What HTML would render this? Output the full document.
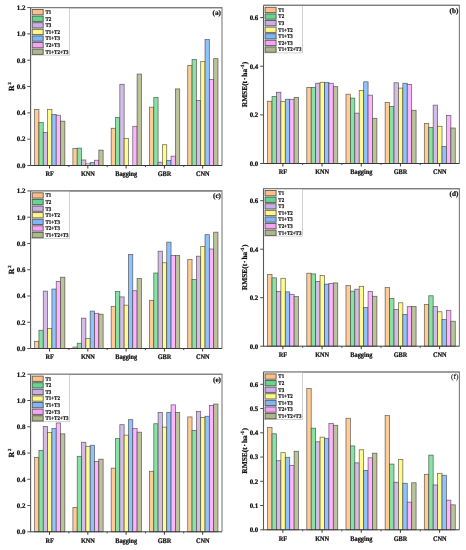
<!DOCTYPE html>
<html><head><meta charset="utf-8"><style>
html,body{margin:0;padding:0;background:#fff;width:466px;height:550px;overflow:hidden}
svg{display:block;will-change:transform}
text{text-rendering:geometricPrecision;font-family:"Liberation Serif",serif;font-weight:bold;fill:#111;stroke:#111;stroke-width:0.24px}
.tk{font-size:6.9px;text-anchor:end}
.gl{font-size:7.0px;text-anchor:middle}
.pl{font-size:7.2px;text-anchor:end}
.nb{font-weight:normal;font-size:7.4px;stroke-width:0.12px}
.yl{font-size:7.4px;text-anchor:middle}
.lg{font-size:5.8px;stroke-width:0.22px}
.lgn{font-weight:normal;stroke-width:0.15px;fill:#222;stroke:#222}
</style></head><body>
<svg width="466" height="550" viewBox="0 0 466 550">
<rect width="466" height="550" fill="#fff"/>
<rect x="34.62" y="109.44" width="4.32" height="56.06" fill="#ffcb96" stroke="rgba(45,45,45,0.7)" stroke-width="0.75"/>
<rect x="38.94" y="122.60" width="4.32" height="42.90" fill="#86e3a3" stroke="rgba(45,45,45,0.7)" stroke-width="0.75"/>
<rect x="43.26" y="132.47" width="4.32" height="33.03" fill="#d5bce8" stroke="rgba(45,45,45,0.7)" stroke-width="0.75"/>
<rect x="47.58" y="109.44" width="4.32" height="56.06" fill="#fffb8e" stroke="rgba(45,45,45,0.7)" stroke-width="0.75"/>
<rect x="51.90" y="114.57" width="4.32" height="50.93" fill="#90c3fd" stroke="rgba(45,45,45,0.7)" stroke-width="0.75"/>
<rect x="56.22" y="115.23" width="4.32" height="50.27" fill="#ffb4fe" stroke="rgba(45,45,45,0.7)" stroke-width="0.75"/>
<rect x="60.54" y="121.15" width="4.32" height="44.35" fill="#bcc29a" stroke="rgba(45,45,45,0.7)" stroke-width="0.75"/>
<rect x="72.90" y="148.39" width="4.32" height="17.11" fill="#ffcb96" stroke="rgba(45,45,45,0.7)" stroke-width="0.75"/>
<rect x="77.22" y="148.13" width="4.32" height="17.37" fill="#86e3a3" stroke="rgba(45,45,45,0.7)" stroke-width="0.75"/>
<rect x="81.54" y="159.97" width="4.32" height="5.53" fill="#d5bce8" stroke="rgba(45,45,45,0.7)" stroke-width="0.75"/>
<rect x="85.86" y="163.79" width="4.32" height="1.71" fill="#fffb8e" stroke="rgba(45,45,45,0.7)" stroke-width="0.75"/>
<rect x="90.18" y="162.34" width="4.32" height="3.16" fill="#90c3fd" stroke="rgba(45,45,45,0.7)" stroke-width="0.75"/>
<rect x="94.50" y="160.24" width="4.32" height="5.26" fill="#ffb4fe" stroke="rgba(45,45,45,0.7)" stroke-width="0.75"/>
<rect x="98.82" y="150.10" width="4.32" height="15.40" fill="#bcc29a" stroke="rgba(45,45,45,0.7)" stroke-width="0.75"/>
<rect x="111.18" y="128.26" width="4.32" height="37.24" fill="#ffcb96" stroke="rgba(45,45,45,0.7)" stroke-width="0.75"/>
<rect x="115.50" y="117.60" width="4.32" height="47.90" fill="#86e3a3" stroke="rgba(45,45,45,0.7)" stroke-width="0.75"/>
<rect x="119.82" y="84.30" width="4.32" height="81.20" fill="#d5bce8" stroke="rgba(45,45,45,0.7)" stroke-width="0.75"/>
<rect x="124.14" y="138.39" width="4.32" height="27.11" fill="#fffb8e" stroke="rgba(45,45,45,0.7)" stroke-width="0.75"/>
<rect x="132.78" y="126.28" width="4.32" height="39.22" fill="#ffb4fe" stroke="rgba(45,45,45,0.7)" stroke-width="0.75"/>
<rect x="137.10" y="74.04" width="4.32" height="91.46" fill="#bcc29a" stroke="rgba(45,45,45,0.7)" stroke-width="0.75"/>
<rect x="149.46" y="107.20" width="4.32" height="58.30" fill="#ffcb96" stroke="rgba(45,45,45,0.7)" stroke-width="0.75"/>
<rect x="153.78" y="97.59" width="4.32" height="67.91" fill="#86e3a3" stroke="rgba(45,45,45,0.7)" stroke-width="0.75"/>
<rect x="158.10" y="162.21" width="4.32" height="3.29" fill="#d5bce8" stroke="rgba(45,45,45,0.7)" stroke-width="0.75"/>
<rect x="162.42" y="144.71" width="4.32" height="20.79" fill="#fffb8e" stroke="rgba(45,45,45,0.7)" stroke-width="0.75"/>
<rect x="166.74" y="160.37" width="4.32" height="5.13" fill="#90c3fd" stroke="rgba(45,45,45,0.7)" stroke-width="0.75"/>
<rect x="171.06" y="156.16" width="4.32" height="9.34" fill="#ffb4fe" stroke="rgba(45,45,45,0.7)" stroke-width="0.75"/>
<rect x="175.38" y="88.91" width="4.32" height="76.59" fill="#bcc29a" stroke="rgba(45,45,45,0.7)" stroke-width="0.75"/>
<rect x="187.74" y="65.35" width="4.32" height="100.15" fill="#ffcb96" stroke="rgba(45,45,45,0.7)" stroke-width="0.75"/>
<rect x="192.06" y="59.56" width="4.32" height="105.94" fill="#86e3a3" stroke="rgba(45,45,45,0.7)" stroke-width="0.75"/>
<rect x="196.38" y="100.49" width="4.32" height="65.01" fill="#d5bce8" stroke="rgba(45,45,45,0.7)" stroke-width="0.75"/>
<rect x="200.70" y="61.40" width="4.32" height="104.10" fill="#fffb8e" stroke="rgba(45,45,45,0.7)" stroke-width="0.75"/>
<rect x="205.02" y="39.56" width="4.32" height="125.94" fill="#90c3fd" stroke="rgba(45,45,45,0.7)" stroke-width="0.75"/>
<rect x="209.34" y="79.57" width="4.32" height="85.93" fill="#ffb4fe" stroke="rgba(45,45,45,0.7)" stroke-width="0.75"/>
<rect x="213.66" y="58.64" width="4.32" height="106.86" fill="#bcc29a" stroke="rgba(45,45,45,0.7)" stroke-width="0.75"/>
<path d="M30.60 7.60H222.00V165.50" fill="none" stroke="#7e7e7e" stroke-width="1.1"/>
<path d="M30.60 165.50H222.00" fill="none" stroke="#3a3a3a" stroke-width="1.0"/>
<path d="M27.30 165.50H30.60" stroke="#3a3a3a" stroke-width="0.9"/>
<text x="25.40" y="167.80" class="tk">0.0</text>
<path d="M27.30 139.18H30.60" stroke="#3a3a3a" stroke-width="0.9"/>
<text x="25.40" y="141.48" class="tk">0.2</text>
<path d="M27.30 112.86H30.60" stroke="#3a3a3a" stroke-width="0.9"/>
<text x="25.40" y="115.16" class="tk">0.4</text>
<path d="M27.30 86.54H30.60" stroke="#3a3a3a" stroke-width="0.9"/>
<text x="25.40" y="88.84" class="tk">0.6</text>
<path d="M27.30 60.22H30.60" stroke="#3a3a3a" stroke-width="0.9"/>
<text x="25.40" y="62.52" class="tk">0.8</text>
<path d="M27.30 33.90H30.60" stroke="#3a3a3a" stroke-width="0.9"/>
<text x="25.40" y="36.20" class="tk">1.0</text>
<path d="M27.30 7.58H30.60" stroke="#3a3a3a" stroke-width="0.9"/>
<text x="25.40" y="9.88" class="tk">1.2</text>
<path d="M49.54 165.50V168.50" stroke="#3a3a3a" stroke-width="1.0"/>
<text transform="translate(49.64 176.40) scale(0.900 1)" class="gl">RF</text>
<path d="M68.88 165.50V167.10" stroke="#3a3a3a" stroke-width="0.9"/>
<path d="M87.82 165.50V168.50" stroke="#3a3a3a" stroke-width="1.0"/>
<text transform="translate(87.92 176.40) scale(0.900 1)" class="gl">KNN</text>
<path d="M107.16 165.50V167.10" stroke="#3a3a3a" stroke-width="0.9"/>
<path d="M126.10 165.50V168.50" stroke="#3a3a3a" stroke-width="1.0"/>
<text transform="translate(126.20 176.40) scale(0.900 1)" class="gl">Bagging</text>
<path d="M145.44 165.50V167.10" stroke="#3a3a3a" stroke-width="0.9"/>
<path d="M164.38 165.50V168.50" stroke="#3a3a3a" stroke-width="1.0"/>
<text transform="translate(164.48 176.40) scale(0.900 1)" class="gl">GBR</text>
<path d="M183.72 165.50V167.10" stroke="#3a3a3a" stroke-width="0.9"/>
<path d="M202.66 165.50V168.50" stroke="#3a3a3a" stroke-width="1.0"/>
<text transform="translate(202.76 176.40) scale(0.900 1)" class="gl">CNN</text>
<text x="221.00" y="15.00" class="pl">(a)</text>
<text transform="translate(13.70 86.65) rotate(-90)" class="yl" style="font-size:7.8px">R<tspan dy="-3.0" dx="0.9" font-size="4.6">2</tspan></text>
<rect x="30.60" y="7.60" width="39.00" height="47.50" fill="#fff" stroke="#c8c8c8" stroke-width="0.8"/>
<path d="M30.60 7.60H222.00" stroke="#7e7e7e" stroke-width="1.1"/>
<path d="M30.60 7.60V166.00" stroke="#585858" stroke-width="1.1"/>
<rect x="32.20" y="9.50" width="11.0" height="5.3" fill="#fdc088" stroke="rgba(55,55,55,0.8)" stroke-width="0.9"/>
<text transform="translate(45.40 14.00) scale(0.860 1)" class="lg">T1</text>
<rect x="32.20" y="16.10" width="11.0" height="5.3" fill="#66d68e" stroke="rgba(55,55,55,0.8)" stroke-width="0.9"/>
<text transform="translate(45.40 20.60) scale(0.860 1)" class="lg">T2</text>
<rect x="32.20" y="22.70" width="11.0" height="5.3" fill="#cbaee2" stroke="rgba(55,55,55,0.8)" stroke-width="0.9"/>
<text transform="translate(45.40 27.20) scale(0.860 1)" class="lg">T3</text>
<rect x="32.20" y="29.30" width="11.0" height="5.3" fill="#fdf788" stroke="rgba(55,55,55,0.8)" stroke-width="0.9"/>
<text transform="translate(45.40 33.80) scale(0.860 1)" class="lg">T1+T2</text>
<rect x="32.20" y="35.90" width="11.0" height="5.3" fill="#80b6f5" stroke="rgba(55,55,55,0.8)" stroke-width="0.9"/>
<text transform="translate(45.40 40.40) scale(0.860 1)" class="lg">T1+T3</text>
<rect x="32.20" y="42.50" width="11.0" height="5.3" fill="#f9a4f3" stroke="rgba(55,55,55,0.8)" stroke-width="0.9"/>
<text transform="translate(45.40 47.00) scale(0.860 1)" class="lg">T2+T3</text>
<rect x="32.20" y="49.10" width="11.0" height="5.3" fill="#b0b68a" stroke="rgba(55,55,55,0.8)" stroke-width="0.9"/>
<text transform="translate(45.40 53.60) scale(0.860 1)" class="lg">T1+T2+T3</text>
<rect x="267.61" y="101.24" width="4.42" height="62.26" fill="#ffcb96" stroke="rgba(45,45,45,0.7)" stroke-width="0.75"/>
<rect x="272.04" y="96.38" width="4.42" height="67.12" fill="#86e3a3" stroke="rgba(45,45,45,0.7)" stroke-width="0.75"/>
<rect x="276.46" y="92.24" width="4.42" height="71.26" fill="#d5bce8" stroke="rgba(45,45,45,0.7)" stroke-width="0.75"/>
<rect x="280.88" y="101.48" width="4.42" height="62.02" fill="#fffb8e" stroke="rgba(45,45,45,0.7)" stroke-width="0.75"/>
<rect x="285.30" y="99.30" width="4.42" height="64.20" fill="#90c3fd" stroke="rgba(45,45,45,0.7)" stroke-width="0.75"/>
<rect x="289.72" y="99.30" width="4.42" height="64.20" fill="#ffb4fe" stroke="rgba(45,45,45,0.7)" stroke-width="0.75"/>
<rect x="294.14" y="97.35" width="4.42" height="66.15" fill="#bcc29a" stroke="rgba(45,45,45,0.7)" stroke-width="0.75"/>
<rect x="306.79" y="87.38" width="4.42" height="76.12" fill="#ffcb96" stroke="rgba(45,45,45,0.7)" stroke-width="0.75"/>
<rect x="311.22" y="87.38" width="4.42" height="76.12" fill="#86e3a3" stroke="rgba(45,45,45,0.7)" stroke-width="0.75"/>
<rect x="315.64" y="83.24" width="4.42" height="80.26" fill="#d5bce8" stroke="rgba(45,45,45,0.7)" stroke-width="0.75"/>
<rect x="320.06" y="82.27" width="4.42" height="81.23" fill="#fffb8e" stroke="rgba(45,45,45,0.7)" stroke-width="0.75"/>
<rect x="324.48" y="82.51" width="4.42" height="80.99" fill="#90c3fd" stroke="rgba(45,45,45,0.7)" stroke-width="0.75"/>
<rect x="328.90" y="83.24" width="4.42" height="80.26" fill="#ffb4fe" stroke="rgba(45,45,45,0.7)" stroke-width="0.75"/>
<rect x="333.32" y="86.65" width="4.42" height="76.85" fill="#bcc29a" stroke="rgba(45,45,45,0.7)" stroke-width="0.75"/>
<rect x="345.97" y="94.19" width="4.42" height="69.31" fill="#ffcb96" stroke="rgba(45,45,45,0.7)" stroke-width="0.75"/>
<rect x="350.40" y="98.08" width="4.42" height="65.42" fill="#86e3a3" stroke="rgba(45,45,45,0.7)" stroke-width="0.75"/>
<rect x="354.82" y="113.16" width="4.42" height="50.34" fill="#d5bce8" stroke="rgba(45,45,45,0.7)" stroke-width="0.75"/>
<rect x="359.24" y="90.54" width="4.42" height="72.96" fill="#fffb8e" stroke="rgba(45,45,45,0.7)" stroke-width="0.75"/>
<rect x="363.66" y="81.78" width="4.42" height="81.72" fill="#90c3fd" stroke="rgba(45,45,45,0.7)" stroke-width="0.75"/>
<rect x="368.08" y="95.16" width="4.42" height="68.34" fill="#ffb4fe" stroke="rgba(45,45,45,0.7)" stroke-width="0.75"/>
<rect x="372.50" y="118.26" width="4.42" height="45.24" fill="#bcc29a" stroke="rgba(45,45,45,0.7)" stroke-width="0.75"/>
<rect x="385.15" y="102.46" width="4.42" height="61.04" fill="#ffcb96" stroke="rgba(45,45,45,0.7)" stroke-width="0.75"/>
<rect x="389.58" y="106.35" width="4.42" height="57.15" fill="#86e3a3" stroke="rgba(45,45,45,0.7)" stroke-width="0.75"/>
<rect x="394.00" y="82.76" width="4.42" height="80.74" fill="#d5bce8" stroke="rgba(45,45,45,0.7)" stroke-width="0.75"/>
<rect x="398.42" y="88.11" width="4.42" height="75.39" fill="#fffb8e" stroke="rgba(45,45,45,0.7)" stroke-width="0.75"/>
<rect x="402.84" y="83.24" width="4.42" height="80.26" fill="#90c3fd" stroke="rgba(45,45,45,0.7)" stroke-width="0.75"/>
<rect x="407.26" y="84.46" width="4.42" height="79.04" fill="#ffb4fe" stroke="rgba(45,45,45,0.7)" stroke-width="0.75"/>
<rect x="411.68" y="110.24" width="4.42" height="53.26" fill="#bcc29a" stroke="rgba(45,45,45,0.7)" stroke-width="0.75"/>
<rect x="424.33" y="123.62" width="4.42" height="39.88" fill="#ffcb96" stroke="rgba(45,45,45,0.7)" stroke-width="0.75"/>
<rect x="428.76" y="127.51" width="4.42" height="35.99" fill="#86e3a3" stroke="rgba(45,45,45,0.7)" stroke-width="0.75"/>
<rect x="433.18" y="105.13" width="4.42" height="58.37" fill="#d5bce8" stroke="rgba(45,45,45,0.7)" stroke-width="0.75"/>
<rect x="437.60" y="126.29" width="4.42" height="37.21" fill="#fffb8e" stroke="rgba(45,45,45,0.7)" stroke-width="0.75"/>
<rect x="442.02" y="146.48" width="4.42" height="17.02" fill="#90c3fd" stroke="rgba(45,45,45,0.7)" stroke-width="0.75"/>
<rect x="446.44" y="115.35" width="4.42" height="48.15" fill="#ffb4fe" stroke="rgba(45,45,45,0.7)" stroke-width="0.75"/>
<rect x="450.86" y="127.99" width="4.42" height="35.51" fill="#bcc29a" stroke="rgba(45,45,45,0.7)" stroke-width="0.75"/>
<path d="M263.50 5.40H459.40V163.50" fill="none" stroke="#7e7e7e" stroke-width="1.1"/>
<path d="M263.50 163.50H459.40" fill="none" stroke="#3a3a3a" stroke-width="1.0"/>
<path d="M260.20 163.50H263.50" stroke="#3a3a3a" stroke-width="0.9"/>
<text x="258.30" y="165.80" class="tk">0.0</text>
<path d="M260.20 114.86H263.50" stroke="#3a3a3a" stroke-width="0.9"/>
<text x="258.30" y="117.16" class="tk">0.2</text>
<path d="M260.20 66.22H263.50" stroke="#3a3a3a" stroke-width="0.9"/>
<text x="258.30" y="68.52" class="tk">0.4</text>
<path d="M260.20 17.58H263.50" stroke="#3a3a3a" stroke-width="0.9"/>
<text x="258.30" y="19.88" class="tk">0.6</text>
<path d="M282.89 163.50V166.50" stroke="#3a3a3a" stroke-width="1.0"/>
<text transform="translate(282.99 174.40) scale(0.900 1)" class="gl">RF</text>
<path d="M302.68 163.50V165.10" stroke="#3a3a3a" stroke-width="0.9"/>
<path d="M322.07 163.50V166.50" stroke="#3a3a3a" stroke-width="1.0"/>
<text transform="translate(322.17 174.40) scale(0.900 1)" class="gl">KNN</text>
<path d="M341.86 163.50V165.10" stroke="#3a3a3a" stroke-width="0.9"/>
<path d="M361.25 163.50V166.50" stroke="#3a3a3a" stroke-width="1.0"/>
<text transform="translate(361.35 174.40) scale(0.900 1)" class="gl">Bagging</text>
<path d="M381.04 163.50V165.10" stroke="#3a3a3a" stroke-width="0.9"/>
<path d="M400.43 163.50V166.50" stroke="#3a3a3a" stroke-width="1.0"/>
<text transform="translate(400.53 174.40) scale(0.900 1)" class="gl">GBR</text>
<path d="M420.22 163.50V165.10" stroke="#3a3a3a" stroke-width="0.9"/>
<path d="M439.61 163.50V166.50" stroke="#3a3a3a" stroke-width="1.0"/>
<text transform="translate(439.71 174.40) scale(0.900 1)" class="gl">CNN</text>
<text x="458.40" y="12.80" class="pl">(b)</text>
<text transform="translate(246.90 84.45) rotate(-90)" class="yl">RMSE(t<tspan dx="0.9">·</tspan><tspan dx="0.9">ha</tspan><tspan dy="-2.8" dx="0.2" font-size="5">-1</tspan><tspan dy="2.8" dx="0.3">)</tspan></text>
<rect x="263.50" y="5.40" width="39.00" height="47.50" fill="#fff" stroke="#c8c8c8" stroke-width="0.8"/>
<path d="M263.50 5.40H459.40" stroke="#7e7e7e" stroke-width="1.1"/>
<path d="M263.50 5.40V164.00" stroke="#585858" stroke-width="1.1"/>
<rect x="265.10" y="7.30" width="11.0" height="5.3" fill="#fdc088" stroke="rgba(55,55,55,0.8)" stroke-width="0.9"/>
<text transform="translate(278.30 11.80) scale(0.860 1)" class="lg">T1</text>
<rect x="265.10" y="13.90" width="11.0" height="5.3" fill="#66d68e" stroke="rgba(55,55,55,0.8)" stroke-width="0.9"/>
<text transform="translate(278.30 18.40) scale(0.860 1)" class="lg">T2</text>
<rect x="265.10" y="20.50" width="11.0" height="5.3" fill="#cbaee2" stroke="rgba(55,55,55,0.8)" stroke-width="0.9"/>
<text transform="translate(278.30 25.00) scale(0.860 1)" class="lg">T3</text>
<rect x="265.10" y="27.10" width="11.0" height="5.3" fill="#fdf788" stroke="rgba(55,55,55,0.8)" stroke-width="0.9"/>
<text transform="translate(278.30 31.60) scale(0.860 1)" class="lg">T1+T2</text>
<rect x="265.10" y="33.70" width="11.0" height="5.3" fill="#80b6f5" stroke="rgba(55,55,55,0.8)" stroke-width="0.9"/>
<text transform="translate(278.30 38.20) scale(0.860 1)" class="lg">T1+T3</text>
<rect x="265.10" y="40.30" width="11.0" height="5.3" fill="#f9a4f3" stroke="rgba(55,55,55,0.8)" stroke-width="0.9"/>
<text transform="translate(278.30 44.80) scale(0.860 1)" class="lg">T2+T3</text>
<rect x="265.10" y="46.90" width="11.0" height="5.3" fill="#b0b68a" stroke="rgba(55,55,55,0.8)" stroke-width="0.9"/>
<text transform="translate(278.30 51.40) scale(0.860 1)" class="lg">T1+T2+T3</text>
<rect x="34.62" y="341.28" width="4.32" height="7.22" fill="#ffcb96" stroke="rgba(45,45,45,0.7)" stroke-width="0.75"/>
<rect x="38.94" y="330.25" width="4.32" height="18.25" fill="#86e3a3" stroke="rgba(45,45,45,0.7)" stroke-width="0.75"/>
<rect x="43.26" y="291.12" width="4.32" height="57.38" fill="#d5bce8" stroke="rgba(45,45,45,0.7)" stroke-width="0.75"/>
<rect x="47.58" y="328.54" width="4.32" height="19.96" fill="#fffb8e" stroke="rgba(45,45,45,0.7)" stroke-width="0.75"/>
<rect x="51.90" y="289.02" width="4.32" height="59.48" fill="#90c3fd" stroke="rgba(45,45,45,0.7)" stroke-width="0.75"/>
<rect x="56.22" y="281.41" width="4.32" height="67.09" fill="#ffb4fe" stroke="rgba(45,45,45,0.7)" stroke-width="0.75"/>
<rect x="60.54" y="277.20" width="4.32" height="71.30" fill="#bcc29a" stroke="rgba(45,45,45,0.7)" stroke-width="0.75"/>
<rect x="72.90" y="347.06" width="4.32" height="1.44" fill="#ffcb96" stroke="rgba(45,45,45,0.7)" stroke-width="0.75"/>
<rect x="77.22" y="343.25" width="4.32" height="5.25" fill="#86e3a3" stroke="rgba(45,45,45,0.7)" stroke-width="0.75"/>
<rect x="81.54" y="318.17" width="4.32" height="30.33" fill="#d5bce8" stroke="rgba(45,45,45,0.7)" stroke-width="0.75"/>
<rect x="85.86" y="338.39" width="4.32" height="10.11" fill="#fffb8e" stroke="rgba(45,45,45,0.7)" stroke-width="0.75"/>
<rect x="90.18" y="311.08" width="4.32" height="37.42" fill="#90c3fd" stroke="rgba(45,45,45,0.7)" stroke-width="0.75"/>
<rect x="94.50" y="313.31" width="4.32" height="35.19" fill="#ffb4fe" stroke="rgba(45,45,45,0.7)" stroke-width="0.75"/>
<rect x="98.82" y="314.23" width="4.32" height="34.27" fill="#bcc29a" stroke="rgba(45,45,45,0.7)" stroke-width="0.75"/>
<rect x="111.18" y="306.62" width="4.32" height="41.88" fill="#ffcb96" stroke="rgba(45,45,45,0.7)" stroke-width="0.75"/>
<rect x="115.50" y="291.52" width="4.32" height="56.98" fill="#86e3a3" stroke="rgba(45,45,45,0.7)" stroke-width="0.75"/>
<rect x="119.82" y="296.90" width="4.32" height="51.60" fill="#d5bce8" stroke="rgba(45,45,45,0.7)" stroke-width="0.75"/>
<rect x="124.14" y="305.17" width="4.32" height="43.33" fill="#fffb8e" stroke="rgba(45,45,45,0.7)" stroke-width="0.75"/>
<rect x="128.46" y="254.49" width="4.32" height="94.01" fill="#90c3fd" stroke="rgba(45,45,45,0.7)" stroke-width="0.75"/>
<rect x="132.78" y="290.73" width="4.32" height="57.77" fill="#ffb4fe" stroke="rgba(45,45,45,0.7)" stroke-width="0.75"/>
<rect x="137.10" y="278.39" width="4.32" height="70.11" fill="#bcc29a" stroke="rgba(45,45,45,0.7)" stroke-width="0.75"/>
<rect x="149.46" y="300.31" width="4.32" height="48.19" fill="#ffcb96" stroke="rgba(45,45,45,0.7)" stroke-width="0.75"/>
<rect x="153.78" y="273.00" width="4.32" height="75.50" fill="#86e3a3" stroke="rgba(45,45,45,0.7)" stroke-width="0.75"/>
<rect x="158.10" y="251.21" width="4.32" height="97.29" fill="#d5bce8" stroke="rgba(45,45,45,0.7)" stroke-width="0.75"/>
<rect x="162.42" y="262.76" width="4.32" height="85.74" fill="#fffb8e" stroke="rgba(45,45,45,0.7)" stroke-width="0.75"/>
<rect x="166.74" y="242.15" width="4.32" height="106.35" fill="#90c3fd" stroke="rgba(45,45,45,0.7)" stroke-width="0.75"/>
<rect x="171.06" y="255.54" width="4.32" height="92.96" fill="#ffb4fe" stroke="rgba(45,45,45,0.7)" stroke-width="0.75"/>
<rect x="175.38" y="255.54" width="4.32" height="92.96" fill="#bcc29a" stroke="rgba(45,45,45,0.7)" stroke-width="0.75"/>
<rect x="187.74" y="259.61" width="4.32" height="88.89" fill="#ffcb96" stroke="rgba(45,45,45,0.7)" stroke-width="0.75"/>
<rect x="192.06" y="279.44" width="4.32" height="69.06" fill="#86e3a3" stroke="rgba(45,45,45,0.7)" stroke-width="0.75"/>
<rect x="196.38" y="256.20" width="4.32" height="92.30" fill="#d5bce8" stroke="rgba(45,45,45,0.7)" stroke-width="0.75"/>
<rect x="200.70" y="246.61" width="4.32" height="101.89" fill="#fffb8e" stroke="rgba(45,45,45,0.7)" stroke-width="0.75"/>
<rect x="205.02" y="234.66" width="4.32" height="113.84" fill="#90c3fd" stroke="rgba(45,45,45,0.7)" stroke-width="0.75"/>
<rect x="209.34" y="248.97" width="4.32" height="99.53" fill="#ffb4fe" stroke="rgba(45,45,45,0.7)" stroke-width="0.75"/>
<rect x="213.66" y="232.17" width="4.32" height="116.33" fill="#bcc29a" stroke="rgba(45,45,45,0.7)" stroke-width="0.75"/>
<path d="M30.60 190.90H222.00V348.50" fill="none" stroke="#7e7e7e" stroke-width="1.1"/>
<path d="M30.60 348.50H222.00" fill="none" stroke="#3a3a3a" stroke-width="1.0"/>
<path d="M27.30 348.50H30.60" stroke="#3a3a3a" stroke-width="0.9"/>
<text x="25.40" y="350.80" class="tk">0.0</text>
<path d="M27.30 322.24H30.60" stroke="#3a3a3a" stroke-width="0.9"/>
<text x="25.40" y="324.54" class="tk">0.2</text>
<path d="M27.30 295.98H30.60" stroke="#3a3a3a" stroke-width="0.9"/>
<text x="25.40" y="298.28" class="tk">0.4</text>
<path d="M27.30 269.72H30.60" stroke="#3a3a3a" stroke-width="0.9"/>
<text x="25.40" y="272.02" class="tk">0.6</text>
<path d="M27.30 243.46H30.60" stroke="#3a3a3a" stroke-width="0.9"/>
<text x="25.40" y="245.76" class="tk">0.8</text>
<path d="M27.30 217.20H30.60" stroke="#3a3a3a" stroke-width="0.9"/>
<text x="25.40" y="219.50" class="tk">1.0</text>
<path d="M27.30 190.94H30.60" stroke="#3a3a3a" stroke-width="0.9"/>
<text x="25.40" y="193.24" class="tk">1.2</text>
<path d="M49.54 348.50V351.50" stroke="#3a3a3a" stroke-width="1.0"/>
<text transform="translate(49.64 359.40) scale(0.900 1)" class="gl">RF</text>
<path d="M68.88 348.50V350.10" stroke="#3a3a3a" stroke-width="0.9"/>
<path d="M87.82 348.50V351.50" stroke="#3a3a3a" stroke-width="1.0"/>
<text transform="translate(87.92 359.40) scale(0.900 1)" class="gl">KNN</text>
<path d="M107.16 348.50V350.10" stroke="#3a3a3a" stroke-width="0.9"/>
<path d="M126.10 348.50V351.50" stroke="#3a3a3a" stroke-width="1.0"/>
<text transform="translate(126.20 359.40) scale(0.900 1)" class="gl">Bagging</text>
<path d="M145.44 348.50V350.10" stroke="#3a3a3a" stroke-width="0.9"/>
<path d="M164.38 348.50V351.50" stroke="#3a3a3a" stroke-width="1.0"/>
<text transform="translate(164.48 359.40) scale(0.900 1)" class="gl">GBR</text>
<path d="M183.72 348.50V350.10" stroke="#3a3a3a" stroke-width="0.9"/>
<path d="M202.66 348.50V351.50" stroke="#3a3a3a" stroke-width="1.0"/>
<text transform="translate(202.76 359.40) scale(0.900 1)" class="gl">CNN</text>
<text x="221.00" y="198.30" class="pl">(c)</text>
<text transform="translate(13.70 269.80) rotate(-90)" class="yl" style="font-size:7.8px">R<tspan dy="-3.0" dx="0.9" font-size="4.6">2</tspan></text>
<rect x="30.60" y="190.90" width="39.00" height="47.50" fill="#fff" stroke="#c8c8c8" stroke-width="0.8"/>
<path d="M30.60 190.90H222.00" stroke="#7e7e7e" stroke-width="1.1"/>
<path d="M30.60 190.90V349.00" stroke="#585858" stroke-width="1.1"/>
<rect x="32.20" y="192.80" width="11.0" height="5.3" fill="#fdc088" stroke="rgba(55,55,55,0.8)" stroke-width="0.9"/>
<text transform="translate(45.40 197.30) scale(0.860 1)" class="lg">T1</text>
<rect x="32.20" y="199.40" width="11.0" height="5.3" fill="#66d68e" stroke="rgba(55,55,55,0.8)" stroke-width="0.9"/>
<text transform="translate(45.40 203.90) scale(0.860 1)" class="lg">T2</text>
<rect x="32.20" y="206.00" width="11.0" height="5.3" fill="#cbaee2" stroke="rgba(55,55,55,0.8)" stroke-width="0.9"/>
<text transform="translate(45.40 210.50) scale(0.860 1)" class="lg">T3</text>
<rect x="32.20" y="212.60" width="11.0" height="5.3" fill="#fdf788" stroke="rgba(55,55,55,0.8)" stroke-width="0.9"/>
<text transform="translate(45.40 217.10) scale(0.860 1)" class="lg">T1+T2</text>
<rect x="32.20" y="219.20" width="11.0" height="5.3" fill="#80b6f5" stroke="rgba(55,55,55,0.8)" stroke-width="0.9"/>
<text transform="translate(45.40 223.70) scale(0.860 1)" class="lg">T1+T3</text>
<rect x="32.20" y="225.80" width="11.0" height="5.3" fill="#f9a4f3" stroke="rgba(55,55,55,0.8)" stroke-width="0.9"/>
<text transform="translate(45.40 230.30) scale(0.860 1)" class="lg">T2+T3</text>
<rect x="32.20" y="232.40" width="11.0" height="5.3" fill="#b0b68a" stroke="rgba(55,55,55,0.8)" stroke-width="0.9"/>
<text transform="translate(45.40 236.90) scale(0.860 1)" class="lg">T1+T2+T3</text>
<rect x="267.61" y="274.42" width="4.42" height="71.78" fill="#ffcb96" stroke="rgba(45,45,45,0.7)" stroke-width="0.75"/>
<rect x="272.04" y="277.81" width="4.42" height="68.38" fill="#86e3a3" stroke="rgba(45,45,45,0.7)" stroke-width="0.75"/>
<rect x="276.46" y="291.39" width="4.42" height="54.80" fill="#d5bce8" stroke="rgba(45,45,45,0.7)" stroke-width="0.75"/>
<rect x="280.88" y="278.30" width="4.42" height="67.90" fill="#fffb8e" stroke="rgba(45,45,45,0.7)" stroke-width="0.75"/>
<rect x="285.30" y="291.88" width="4.42" height="54.32" fill="#90c3fd" stroke="rgba(45,45,45,0.7)" stroke-width="0.75"/>
<rect x="289.72" y="294.31" width="4.42" height="51.89" fill="#ffb4fe" stroke="rgba(45,45,45,0.7)" stroke-width="0.75"/>
<rect x="294.14" y="296.49" width="4.42" height="49.71" fill="#bcc29a" stroke="rgba(45,45,45,0.7)" stroke-width="0.75"/>
<rect x="306.79" y="273.21" width="4.42" height="72.99" fill="#ffcb96" stroke="rgba(45,45,45,0.7)" stroke-width="0.75"/>
<rect x="311.22" y="273.94" width="4.42" height="72.27" fill="#86e3a3" stroke="rgba(45,45,45,0.7)" stroke-width="0.75"/>
<rect x="315.64" y="281.45" width="4.42" height="64.75" fill="#d5bce8" stroke="rgba(45,45,45,0.7)" stroke-width="0.75"/>
<rect x="320.06" y="275.39" width="4.42" height="70.81" fill="#fffb8e" stroke="rgba(45,45,45,0.7)" stroke-width="0.75"/>
<rect x="324.48" y="284.12" width="4.42" height="62.08" fill="#90c3fd" stroke="rgba(45,45,45,0.7)" stroke-width="0.75"/>
<rect x="328.90" y="283.39" width="4.42" height="62.81" fill="#ffb4fe" stroke="rgba(45,45,45,0.7)" stroke-width="0.75"/>
<rect x="333.32" y="282.91" width="4.42" height="63.29" fill="#bcc29a" stroke="rgba(45,45,45,0.7)" stroke-width="0.75"/>
<rect x="345.97" y="285.57" width="4.42" height="60.62" fill="#ffcb96" stroke="rgba(45,45,45,0.7)" stroke-width="0.75"/>
<rect x="350.40" y="291.15" width="4.42" height="55.05" fill="#86e3a3" stroke="rgba(45,45,45,0.7)" stroke-width="0.75"/>
<rect x="354.82" y="289.21" width="4.42" height="56.99" fill="#d5bce8" stroke="rgba(45,45,45,0.7)" stroke-width="0.75"/>
<rect x="359.24" y="286.30" width="4.42" height="59.90" fill="#fffb8e" stroke="rgba(45,45,45,0.7)" stroke-width="0.75"/>
<rect x="363.66" y="307.40" width="4.42" height="38.80" fill="#90c3fd" stroke="rgba(45,45,45,0.7)" stroke-width="0.75"/>
<rect x="368.08" y="291.39" width="4.42" height="54.80" fill="#ffb4fe" stroke="rgba(45,45,45,0.7)" stroke-width="0.75"/>
<rect x="372.50" y="296.25" width="4.42" height="49.95" fill="#bcc29a" stroke="rgba(45,45,45,0.7)" stroke-width="0.75"/>
<rect x="385.15" y="287.51" width="4.42" height="58.68" fill="#ffcb96" stroke="rgba(45,45,45,0.7)" stroke-width="0.75"/>
<rect x="389.58" y="298.43" width="4.42" height="47.77" fill="#86e3a3" stroke="rgba(45,45,45,0.7)" stroke-width="0.75"/>
<rect x="394.00" y="309.34" width="4.42" height="36.86" fill="#d5bce8" stroke="rgba(45,45,45,0.7)" stroke-width="0.75"/>
<rect x="398.42" y="302.79" width="4.42" height="43.41" fill="#fffb8e" stroke="rgba(45,45,45,0.7)" stroke-width="0.75"/>
<rect x="402.84" y="314.43" width="4.42" height="31.77" fill="#90c3fd" stroke="rgba(45,45,45,0.7)" stroke-width="0.75"/>
<rect x="407.26" y="306.67" width="4.42" height="39.53" fill="#ffb4fe" stroke="rgba(45,45,45,0.7)" stroke-width="0.75"/>
<rect x="411.68" y="306.43" width="4.42" height="39.77" fill="#bcc29a" stroke="rgba(45,45,45,0.7)" stroke-width="0.75"/>
<rect x="424.33" y="304.49" width="4.42" height="41.71" fill="#ffcb96" stroke="rgba(45,45,45,0.7)" stroke-width="0.75"/>
<rect x="428.76" y="295.76" width="4.42" height="50.44" fill="#86e3a3" stroke="rgba(45,45,45,0.7)" stroke-width="0.75"/>
<rect x="433.18" y="306.43" width="4.42" height="39.77" fill="#d5bce8" stroke="rgba(45,45,45,0.7)" stroke-width="0.75"/>
<rect x="437.60" y="311.76" width="4.42" height="34.43" fill="#fffb8e" stroke="rgba(45,45,45,0.7)" stroke-width="0.75"/>
<rect x="442.02" y="319.52" width="4.42" height="26.68" fill="#90c3fd" stroke="rgba(45,45,45,0.7)" stroke-width="0.75"/>
<rect x="446.44" y="310.31" width="4.42" height="35.89" fill="#ffb4fe" stroke="rgba(45,45,45,0.7)" stroke-width="0.75"/>
<rect x="450.86" y="321.22" width="4.42" height="24.98" fill="#bcc29a" stroke="rgba(45,45,45,0.7)" stroke-width="0.75"/>
<path d="M263.50 188.60H459.40V346.20" fill="none" stroke="#7e7e7e" stroke-width="1.1"/>
<path d="M263.50 346.20H459.40" fill="none" stroke="#3a3a3a" stroke-width="1.0"/>
<path d="M260.20 346.20H263.50" stroke="#3a3a3a" stroke-width="0.9"/>
<text x="258.30" y="348.50" class="tk">0.0</text>
<path d="M260.20 297.70H263.50" stroke="#3a3a3a" stroke-width="0.9"/>
<text x="258.30" y="300.00" class="tk">0.2</text>
<path d="M260.20 249.20H263.50" stroke="#3a3a3a" stroke-width="0.9"/>
<text x="258.30" y="251.50" class="tk">0.4</text>
<path d="M260.20 200.70H263.50" stroke="#3a3a3a" stroke-width="0.9"/>
<text x="258.30" y="203.00" class="tk">0.6</text>
<path d="M282.89 346.20V349.20" stroke="#3a3a3a" stroke-width="1.0"/>
<text transform="translate(282.99 357.10) scale(0.900 1)" class="gl">RF</text>
<path d="M302.68 346.20V347.80" stroke="#3a3a3a" stroke-width="0.9"/>
<path d="M322.07 346.20V349.20" stroke="#3a3a3a" stroke-width="1.0"/>
<text transform="translate(322.17 357.10) scale(0.900 1)" class="gl">KNN</text>
<path d="M341.86 346.20V347.80" stroke="#3a3a3a" stroke-width="0.9"/>
<path d="M361.25 346.20V349.20" stroke="#3a3a3a" stroke-width="1.0"/>
<text transform="translate(361.35 357.10) scale(0.900 1)" class="gl">Bagging</text>
<path d="M381.04 346.20V347.80" stroke="#3a3a3a" stroke-width="0.9"/>
<path d="M400.43 346.20V349.20" stroke="#3a3a3a" stroke-width="1.0"/>
<text transform="translate(400.53 357.10) scale(0.900 1)" class="gl">GBR</text>
<path d="M420.22 346.20V347.80" stroke="#3a3a3a" stroke-width="0.9"/>
<path d="M439.61 346.20V349.20" stroke="#3a3a3a" stroke-width="1.0"/>
<text transform="translate(439.71 357.10) scale(0.900 1)" class="gl">CNN</text>
<text x="458.40" y="196.00" class="pl">(d)</text>
<text transform="translate(246.90 267.40) rotate(-90)" class="yl">RMSE(t<tspan dx="0.9">·</tspan><tspan dx="0.9">ha</tspan><tspan dy="-2.8" dx="0.2" font-size="5">-1</tspan><tspan dy="2.8" dx="0.3">)</tspan></text>
<rect x="263.50" y="188.60" width="39.00" height="47.50" fill="#fff" stroke="#c8c8c8" stroke-width="0.8"/>
<path d="M263.50 188.60H459.40" stroke="#7e7e7e" stroke-width="1.1"/>
<path d="M263.50 188.60V346.70" stroke="#585858" stroke-width="1.1"/>
<rect x="265.10" y="190.50" width="11.0" height="5.3" fill="#fdc088" stroke="rgba(55,55,55,0.8)" stroke-width="0.9"/>
<text transform="translate(278.30 195.00) scale(0.860 1)" class="lg">T1</text>
<rect x="265.10" y="197.10" width="11.0" height="5.3" fill="#66d68e" stroke="rgba(55,55,55,0.8)" stroke-width="0.9"/>
<text transform="translate(278.30 201.60) scale(0.860 1)" class="lg">T2</text>
<rect x="265.10" y="203.70" width="11.0" height="5.3" fill="#cbaee2" stroke="rgba(55,55,55,0.8)" stroke-width="0.9"/>
<text transform="translate(278.30 208.20) scale(0.860 1)" class="lg">T3</text>
<rect x="265.10" y="210.30" width="11.0" height="5.3" fill="#fdf788" stroke="rgba(55,55,55,0.8)" stroke-width="0.9"/>
<text transform="translate(278.30 214.80) scale(0.860 1)" class="lg">T1+T2</text>
<rect x="265.10" y="216.90" width="11.0" height="5.3" fill="#80b6f5" stroke="rgba(55,55,55,0.8)" stroke-width="0.9"/>
<text transform="translate(278.30 221.40) scale(0.860 1)" class="lg">T1+T3</text>
<rect x="265.10" y="223.50" width="11.0" height="5.3" fill="#f9a4f3" stroke="rgba(55,55,55,0.8)" stroke-width="0.9"/>
<text transform="translate(278.30 228.00) scale(0.860 1)" class="lg">T2+T3</text>
<rect x="265.10" y="230.10" width="11.0" height="5.3" fill="#b0b68a" stroke="rgba(55,55,55,0.8)" stroke-width="0.9"/>
<text transform="translate(278.30 234.60) scale(0.860 1)" class="lg">T1+T2+T3</text>
<rect x="34.62" y="457.35" width="4.32" height="74.45" fill="#ffcb96" stroke="rgba(45,45,45,0.7)" stroke-width="0.75"/>
<rect x="38.94" y="450.39" width="4.32" height="81.41" fill="#86e3a3" stroke="rgba(45,45,45,0.7)" stroke-width="0.75"/>
<rect x="43.26" y="426.37" width="4.32" height="105.43" fill="#d5bce8" stroke="rgba(45,45,45,0.7)" stroke-width="0.75"/>
<rect x="47.58" y="432.54" width="4.32" height="99.26" fill="#fffb8e" stroke="rgba(45,45,45,0.7)" stroke-width="0.75"/>
<rect x="51.90" y="428.47" width="4.32" height="103.33" fill="#90c3fd" stroke="rgba(45,45,45,0.7)" stroke-width="0.75"/>
<rect x="56.22" y="422.95" width="4.32" height="108.85" fill="#ffb4fe" stroke="rgba(45,45,45,0.7)" stroke-width="0.75"/>
<rect x="60.54" y="433.85" width="4.32" height="97.95" fill="#bcc29a" stroke="rgba(45,45,45,0.7)" stroke-width="0.75"/>
<rect x="72.90" y="507.51" width="4.32" height="24.29" fill="#ffcb96" stroke="rgba(45,45,45,0.7)" stroke-width="0.75"/>
<rect x="77.22" y="456.30" width="4.32" height="75.50" fill="#86e3a3" stroke="rgba(45,45,45,0.7)" stroke-width="0.75"/>
<rect x="81.54" y="442.25" width="4.32" height="89.55" fill="#d5bce8" stroke="rgba(45,45,45,0.7)" stroke-width="0.75"/>
<rect x="85.86" y="446.32" width="4.32" height="85.48" fill="#fffb8e" stroke="rgba(45,45,45,0.7)" stroke-width="0.75"/>
<rect x="90.18" y="445.27" width="4.32" height="86.53" fill="#90c3fd" stroke="rgba(45,45,45,0.7)" stroke-width="0.75"/>
<rect x="94.50" y="461.42" width="4.32" height="70.38" fill="#ffb4fe" stroke="rgba(45,45,45,0.7)" stroke-width="0.75"/>
<rect x="98.82" y="459.19" width="4.32" height="72.61" fill="#bcc29a" stroke="rgba(45,45,45,0.7)" stroke-width="0.75"/>
<rect x="111.18" y="468.12" width="4.32" height="63.68" fill="#ffcb96" stroke="rgba(45,45,45,0.7)" stroke-width="0.75"/>
<rect x="115.50" y="438.58" width="4.32" height="93.22" fill="#86e3a3" stroke="rgba(45,45,45,0.7)" stroke-width="0.75"/>
<rect x="119.82" y="424.66" width="4.32" height="107.14" fill="#d5bce8" stroke="rgba(45,45,45,0.7)" stroke-width="0.75"/>
<rect x="124.14" y="435.16" width="4.32" height="96.64" fill="#fffb8e" stroke="rgba(45,45,45,0.7)" stroke-width="0.75"/>
<rect x="128.46" y="419.67" width="4.32" height="112.13" fill="#90c3fd" stroke="rgba(45,45,45,0.7)" stroke-width="0.75"/>
<rect x="132.78" y="428.60" width="4.32" height="103.20" fill="#ffb4fe" stroke="rgba(45,45,45,0.7)" stroke-width="0.75"/>
<rect x="137.10" y="432.14" width="4.32" height="99.66" fill="#bcc29a" stroke="rgba(45,45,45,0.7)" stroke-width="0.75"/>
<rect x="149.46" y="471.27" width="4.32" height="60.53" fill="#ffcb96" stroke="rgba(45,45,45,0.7)" stroke-width="0.75"/>
<rect x="153.78" y="423.74" width="4.32" height="108.06" fill="#86e3a3" stroke="rgba(45,45,45,0.7)" stroke-width="0.75"/>
<rect x="158.10" y="412.45" width="4.32" height="119.35" fill="#d5bce8" stroke="rgba(45,45,45,0.7)" stroke-width="0.75"/>
<rect x="162.42" y="427.15" width="4.32" height="104.65" fill="#fffb8e" stroke="rgba(45,45,45,0.7)" stroke-width="0.75"/>
<rect x="166.74" y="412.45" width="4.32" height="119.35" fill="#90c3fd" stroke="rgba(45,45,45,0.7)" stroke-width="0.75"/>
<rect x="171.06" y="404.83" width="4.32" height="126.97" fill="#ffb4fe" stroke="rgba(45,45,45,0.7)" stroke-width="0.75"/>
<rect x="175.38" y="412.45" width="4.32" height="119.35" fill="#bcc29a" stroke="rgba(45,45,45,0.7)" stroke-width="0.75"/>
<rect x="187.74" y="416.91" width="4.32" height="114.89" fill="#ffcb96" stroke="rgba(45,45,45,0.7)" stroke-width="0.75"/>
<rect x="192.06" y="430.44" width="4.32" height="101.36" fill="#86e3a3" stroke="rgba(45,45,45,0.7)" stroke-width="0.75"/>
<rect x="196.38" y="411.53" width="4.32" height="120.27" fill="#d5bce8" stroke="rgba(45,45,45,0.7)" stroke-width="0.75"/>
<rect x="200.70" y="417.57" width="4.32" height="114.23" fill="#fffb8e" stroke="rgba(45,45,45,0.7)" stroke-width="0.75"/>
<rect x="205.02" y="416.26" width="4.32" height="115.54" fill="#90c3fd" stroke="rgba(45,45,45,0.7)" stroke-width="0.75"/>
<rect x="209.34" y="405.36" width="4.32" height="126.44" fill="#ffb4fe" stroke="rgba(45,45,45,0.7)" stroke-width="0.75"/>
<rect x="213.66" y="404.05" width="4.32" height="127.75" fill="#bcc29a" stroke="rgba(45,45,45,0.7)" stroke-width="0.75"/>
<path d="M30.60 374.20H222.00V531.80" fill="none" stroke="#7e7e7e" stroke-width="1.1"/>
<path d="M30.60 531.80H222.00" fill="none" stroke="#3a3a3a" stroke-width="1.0"/>
<path d="M27.30 531.80H30.60" stroke="#3a3a3a" stroke-width="0.9"/>
<text x="25.40" y="534.10" class="tk">0.0</text>
<path d="M27.30 505.54H30.60" stroke="#3a3a3a" stroke-width="0.9"/>
<text x="25.40" y="507.84" class="tk">0.2</text>
<path d="M27.30 479.28H30.60" stroke="#3a3a3a" stroke-width="0.9"/>
<text x="25.40" y="481.58" class="tk">0.4</text>
<path d="M27.30 453.02H30.60" stroke="#3a3a3a" stroke-width="0.9"/>
<text x="25.40" y="455.32" class="tk">0.6</text>
<path d="M27.30 426.76H30.60" stroke="#3a3a3a" stroke-width="0.9"/>
<text x="25.40" y="429.06" class="tk">0.8</text>
<path d="M27.30 400.50H30.60" stroke="#3a3a3a" stroke-width="0.9"/>
<text x="25.40" y="402.80" class="tk">1.0</text>
<path d="M27.30 374.24H30.60" stroke="#3a3a3a" stroke-width="0.9"/>
<text x="25.40" y="376.54" class="tk">1.2</text>
<path d="M49.54 531.80V534.80" stroke="#3a3a3a" stroke-width="1.0"/>
<text transform="translate(49.64 542.70) scale(0.900 1)" class="gl">RF</text>
<path d="M68.88 531.80V533.40" stroke="#3a3a3a" stroke-width="0.9"/>
<path d="M87.82 531.80V534.80" stroke="#3a3a3a" stroke-width="1.0"/>
<text transform="translate(87.92 542.70) scale(0.900 1)" class="gl">KNN</text>
<path d="M107.16 531.80V533.40" stroke="#3a3a3a" stroke-width="0.9"/>
<path d="M126.10 531.80V534.80" stroke="#3a3a3a" stroke-width="1.0"/>
<text transform="translate(126.20 542.70) scale(0.900 1)" class="gl">Bagging</text>
<path d="M145.44 531.80V533.40" stroke="#3a3a3a" stroke-width="0.9"/>
<path d="M164.38 531.80V534.80" stroke="#3a3a3a" stroke-width="1.0"/>
<text transform="translate(164.48 542.70) scale(0.900 1)" class="gl">GBR</text>
<path d="M183.72 531.80V533.40" stroke="#3a3a3a" stroke-width="0.9"/>
<path d="M202.66 531.80V534.80" stroke="#3a3a3a" stroke-width="1.0"/>
<text transform="translate(202.76 542.70) scale(0.900 1)" class="gl">CNN</text>
<text x="221.00" y="381.60" class="pl">(e)</text>
<text transform="translate(13.70 453.10) rotate(-90)" class="yl" style="font-size:7.8px">R<tspan dy="-3.0" dx="0.9" font-size="4.6">2</tspan></text>
<rect x="30.60" y="374.20" width="39.00" height="47.50" fill="#fff" stroke="#c8c8c8" stroke-width="0.8"/>
<path d="M30.60 374.20H222.00" stroke="#7e7e7e" stroke-width="1.1"/>
<path d="M30.60 374.20V532.30" stroke="#585858" stroke-width="1.1"/>
<rect x="32.20" y="376.10" width="11.0" height="5.3" fill="#fdc088" stroke="rgba(55,55,55,0.8)" stroke-width="0.9"/>
<text transform="translate(45.40 380.60) scale(0.860 1)" class="lg">T1</text>
<rect x="32.20" y="382.70" width="11.0" height="5.3" fill="#66d68e" stroke="rgba(55,55,55,0.8)" stroke-width="0.9"/>
<text transform="translate(45.40 387.20) scale(0.860 1)" class="lg">T2</text>
<rect x="32.20" y="389.30" width="11.0" height="5.3" fill="#cbaee2" stroke="rgba(55,55,55,0.8)" stroke-width="0.9"/>
<text transform="translate(45.40 393.80) scale(0.860 1)" class="lg">T3</text>
<rect x="32.20" y="395.90" width="11.0" height="5.3" fill="#fdf788" stroke="rgba(55,55,55,0.8)" stroke-width="0.9"/>
<text transform="translate(45.40 400.40) scale(0.860 1)" class="lg">T1+T2</text>
<rect x="32.20" y="402.50" width="11.0" height="5.3" fill="#80b6f5" stroke="rgba(55,55,55,0.8)" stroke-width="0.9"/>
<text transform="translate(45.40 407.00) scale(0.860 1)" class="lg">T1+T3</text>
<rect x="32.20" y="409.10" width="11.0" height="5.3" fill="#f9a4f3" stroke="rgba(55,55,55,0.8)" stroke-width="0.9"/>
<text transform="translate(45.40 413.60) scale(0.860 1)" class="lg">T2+T3</text>
<rect x="32.20" y="415.70" width="11.0" height="5.3" fill="#b0b68a" stroke="rgba(55,55,55,0.8)" stroke-width="0.9"/>
<text transform="translate(45.40 420.20) scale(0.860 1)" class="lg">T1+T2+T3</text>
<rect x="267.61" y="427.46" width="4.42" height="102.33" fill="#ffcb96" stroke="rgba(45,45,45,0.7)" stroke-width="0.75"/>
<rect x="272.04" y="433.77" width="4.42" height="96.03" fill="#86e3a3" stroke="rgba(45,45,45,0.7)" stroke-width="0.75"/>
<rect x="276.46" y="460.69" width="4.42" height="69.11" fill="#d5bce8" stroke="rgba(45,45,45,0.7)" stroke-width="0.75"/>
<rect x="280.88" y="452.68" width="4.42" height="77.11" fill="#fffb8e" stroke="rgba(45,45,45,0.7)" stroke-width="0.75"/>
<rect x="285.30" y="457.29" width="4.42" height="72.51" fill="#90c3fd" stroke="rgba(45,45,45,0.7)" stroke-width="0.75"/>
<rect x="289.72" y="465.54" width="4.42" height="64.26" fill="#ffb4fe" stroke="rgba(45,45,45,0.7)" stroke-width="0.75"/>
<rect x="294.14" y="451.23" width="4.42" height="78.57" fill="#bcc29a" stroke="rgba(45,45,45,0.7)" stroke-width="0.75"/>
<rect x="306.79" y="388.42" width="4.42" height="141.38" fill="#ffcb96" stroke="rgba(45,45,45,0.7)" stroke-width="0.75"/>
<rect x="311.22" y="428.19" width="4.42" height="101.61" fill="#86e3a3" stroke="rgba(45,45,45,0.7)" stroke-width="0.75"/>
<rect x="315.64" y="441.77" width="4.42" height="88.03" fill="#d5bce8" stroke="rgba(45,45,45,0.7)" stroke-width="0.75"/>
<rect x="320.06" y="437.16" width="4.42" height="92.64" fill="#fffb8e" stroke="rgba(45,45,45,0.7)" stroke-width="0.75"/>
<rect x="324.48" y="438.38" width="4.42" height="91.42" fill="#90c3fd" stroke="rgba(45,45,45,0.7)" stroke-width="0.75"/>
<rect x="328.90" y="423.34" width="4.42" height="106.46" fill="#ffb4fe" stroke="rgba(45,45,45,0.7)" stroke-width="0.75"/>
<rect x="333.32" y="425.28" width="4.42" height="104.52" fill="#bcc29a" stroke="rgba(45,45,45,0.7)" stroke-width="0.75"/>
<rect x="345.97" y="418.25" width="4.42" height="111.55" fill="#ffcb96" stroke="rgba(45,45,45,0.7)" stroke-width="0.75"/>
<rect x="350.40" y="445.89" width="4.42" height="83.90" fill="#86e3a3" stroke="rgba(45,45,45,0.7)" stroke-width="0.75"/>
<rect x="354.82" y="462.87" width="4.42" height="66.93" fill="#d5bce8" stroke="rgba(45,45,45,0.7)" stroke-width="0.75"/>
<rect x="359.24" y="449.77" width="4.42" height="80.03" fill="#fffb8e" stroke="rgba(45,45,45,0.7)" stroke-width="0.75"/>
<rect x="363.66" y="470.39" width="4.42" height="59.41" fill="#90c3fd" stroke="rgba(45,45,45,0.7)" stroke-width="0.75"/>
<rect x="368.08" y="457.78" width="4.42" height="72.02" fill="#ffb4fe" stroke="rgba(45,45,45,0.7)" stroke-width="0.75"/>
<rect x="372.50" y="453.17" width="4.42" height="76.63" fill="#bcc29a" stroke="rgba(45,45,45,0.7)" stroke-width="0.75"/>
<rect x="385.15" y="415.58" width="4.42" height="114.22" fill="#ffcb96" stroke="rgba(45,45,45,0.7)" stroke-width="0.75"/>
<rect x="389.58" y="464.08" width="4.42" height="65.72" fill="#86e3a3" stroke="rgba(45,45,45,0.7)" stroke-width="0.75"/>
<rect x="394.00" y="482.27" width="4.42" height="47.53" fill="#d5bce8" stroke="rgba(45,45,45,0.7)" stroke-width="0.75"/>
<rect x="398.42" y="459.47" width="4.42" height="70.32" fill="#fffb8e" stroke="rgba(45,45,45,0.7)" stroke-width="0.75"/>
<rect x="402.84" y="483.24" width="4.42" height="46.56" fill="#90c3fd" stroke="rgba(45,45,45,0.7)" stroke-width="0.75"/>
<rect x="407.26" y="502.15" width="4.42" height="27.64" fill="#ffb4fe" stroke="rgba(45,45,45,0.7)" stroke-width="0.75"/>
<rect x="411.68" y="482.75" width="4.42" height="47.05" fill="#bcc29a" stroke="rgba(45,45,45,0.7)" stroke-width="0.75"/>
<rect x="424.33" y="474.27" width="4.42" height="55.53" fill="#ffcb96" stroke="rgba(45,45,45,0.7)" stroke-width="0.75"/>
<rect x="428.76" y="455.11" width="4.42" height="74.69" fill="#86e3a3" stroke="rgba(45,45,45,0.7)" stroke-width="0.75"/>
<rect x="433.18" y="484.94" width="4.42" height="44.86" fill="#d5bce8" stroke="rgba(45,45,45,0.7)" stroke-width="0.75"/>
<rect x="437.60" y="473.30" width="4.42" height="56.50" fill="#fffb8e" stroke="rgba(45,45,45,0.7)" stroke-width="0.75"/>
<rect x="442.02" y="475.24" width="4.42" height="54.56" fill="#90c3fd" stroke="rgba(45,45,45,0.7)" stroke-width="0.75"/>
<rect x="446.44" y="500.21" width="4.42" height="29.59" fill="#ffb4fe" stroke="rgba(45,45,45,0.7)" stroke-width="0.75"/>
<rect x="450.86" y="504.82" width="4.42" height="24.98" fill="#bcc29a" stroke="rgba(45,45,45,0.7)" stroke-width="0.75"/>
<path d="M263.50 372.00H459.40V529.80" fill="none" stroke="#7e7e7e" stroke-width="1.1"/>
<path d="M263.50 529.80H459.40" fill="none" stroke="#3a3a3a" stroke-width="1.0"/>
<path d="M260.20 529.80H263.50" stroke="#3a3a3a" stroke-width="0.9"/>
<text x="258.30" y="532.10" class="tk">0.0</text>
<path d="M260.20 505.55H263.50" stroke="#3a3a3a" stroke-width="0.9"/>
<text x="258.30" y="507.85" class="tk">0.1</text>
<path d="M260.20 481.30H263.50" stroke="#3a3a3a" stroke-width="0.9"/>
<text x="258.30" y="483.60" class="tk">0.2</text>
<path d="M260.20 457.05H263.50" stroke="#3a3a3a" stroke-width="0.9"/>
<text x="258.30" y="459.35" class="tk">0.3</text>
<path d="M260.20 432.80H263.50" stroke="#3a3a3a" stroke-width="0.9"/>
<text x="258.30" y="435.10" class="tk">0.4</text>
<path d="M260.20 408.55H263.50" stroke="#3a3a3a" stroke-width="0.9"/>
<text x="258.30" y="410.85" class="tk">0.5</text>
<path d="M260.20 384.30H263.50" stroke="#3a3a3a" stroke-width="0.9"/>
<text x="258.30" y="386.60" class="tk">0.6</text>
<path d="M282.89 529.80V532.80" stroke="#3a3a3a" stroke-width="1.0"/>
<text transform="translate(282.99 540.70) scale(0.900 1)" class="gl">RF</text>
<path d="M302.68 529.80V531.40" stroke="#3a3a3a" stroke-width="0.9"/>
<path d="M322.07 529.80V532.80" stroke="#3a3a3a" stroke-width="1.0"/>
<text transform="translate(322.17 540.70) scale(0.900 1)" class="gl">KNN</text>
<path d="M341.86 529.80V531.40" stroke="#3a3a3a" stroke-width="0.9"/>
<path d="M361.25 529.80V532.80" stroke="#3a3a3a" stroke-width="1.0"/>
<text transform="translate(361.35 540.70) scale(0.900 1)" class="gl">Bagging</text>
<path d="M381.04 529.80V531.40" stroke="#3a3a3a" stroke-width="0.9"/>
<path d="M400.43 529.80V532.80" stroke="#3a3a3a" stroke-width="1.0"/>
<text transform="translate(400.53 540.70) scale(0.900 1)" class="gl">GBR</text>
<path d="M420.22 529.80V531.40" stroke="#3a3a3a" stroke-width="0.9"/>
<path d="M439.61 529.80V532.80" stroke="#3a3a3a" stroke-width="1.0"/>
<text transform="translate(439.71 540.70) scale(0.900 1)" class="gl">CNN</text>
<text x="458.40" y="379.40" class="pl nb">(f)</text>
<text transform="translate(246.90 450.90) rotate(-90)" class="yl">RMSE(t<tspan dx="0.9">·</tspan><tspan dx="0.9">ha</tspan><tspan dy="-2.8" dx="0.2" font-size="5">-1</tspan><tspan dy="2.8" dx="0.3">)</tspan></text>
<rect x="263.50" y="372.00" width="39.00" height="47.50" fill="#fff" stroke="#c8c8c8" stroke-width="0.8"/>
<path d="M263.50 372.00H459.40" stroke="#7e7e7e" stroke-width="1.1"/>
<path d="M263.50 372.00V530.30" stroke="#585858" stroke-width="1.1"/>
<rect x="265.10" y="373.90" width="11.0" height="5.3" fill="#fdc088" stroke="rgba(55,55,55,0.8)" stroke-width="0.9"/>
<text transform="translate(278.30 378.40) scale(0.860 1)" class="lg">T1</text>
<rect x="265.10" y="380.50" width="11.0" height="5.3" fill="#66d68e" stroke="rgba(55,55,55,0.8)" stroke-width="0.9"/>
<text transform="translate(278.30 385.00) scale(0.860 1)" class="lg">T2</text>
<rect x="265.10" y="387.10" width="11.0" height="5.3" fill="#cbaee2" stroke="rgba(55,55,55,0.8)" stroke-width="0.9"/>
<text transform="translate(278.30 391.60) scale(0.860 1)" class="lg">T3</text>
<rect x="265.10" y="393.70" width="11.0" height="5.3" fill="#fdf788" stroke="rgba(55,55,55,0.8)" stroke-width="0.9"/>
<text transform="translate(278.30 398.20) scale(0.860 1)" class="lg">T1+T2</text>
<rect x="265.10" y="400.30" width="11.0" height="5.3" fill="#80b6f5" stroke="rgba(55,55,55,0.8)" stroke-width="0.9"/>
<text transform="translate(278.30 404.80) scale(0.860 1)" class="lg">T1+T3</text>
<rect x="265.10" y="406.90" width="11.0" height="5.3" fill="#f9a4f3" stroke="rgba(55,55,55,0.8)" stroke-width="0.9"/>
<text transform="translate(278.30 411.40) scale(0.860 1)" class="lg">T2+T3</text>
<rect x="265.10" y="413.50" width="11.0" height="5.3" fill="#b0b68a" stroke="rgba(55,55,55,0.8)" stroke-width="0.9"/>
<text transform="translate(278.30 418.00) scale(0.860 1)" class="lg">T1+T2+T3</text>
</svg>
</body></html>
